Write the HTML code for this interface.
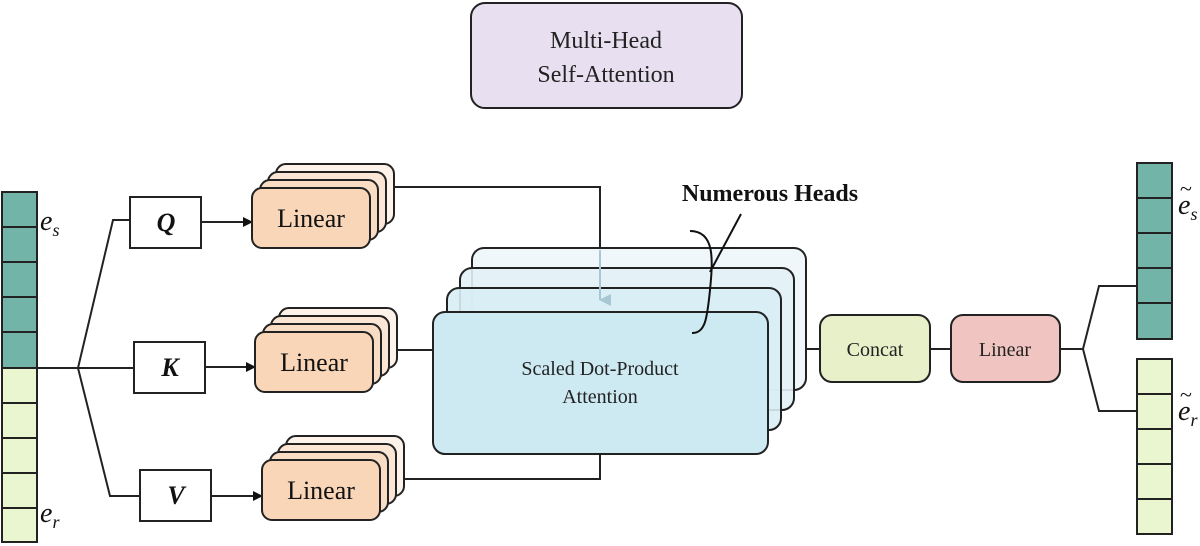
<!DOCTYPE html>
<html><head><meta charset="utf-8"><style>body{margin:0;background:#fff}svg{display:block}</style></head><body>
<svg width="1200" height="546" viewBox="0 0 1200 546" xmlns="http://www.w3.org/2000/svg" font-family="Liberation Serif, serif">
<defs><marker id="a" markerWidth="10" markerHeight="10" refX="9" refY="5" orient="auto" markerUnits="userSpaceOnUse"><path d="M0,0 L10,5 L0,10 z" fill="#111"/></marker>
<marker id="b" markerWidth="12" markerHeight="12" refX="6" refY="11" orient="auto" markerUnits="userSpaceOnUse"><path d="M0,0 L12,0 L6,12 z" fill="#a9c7d3"/></marker></defs>
<rect x="471" y="3" width="271" height="105" rx="14" fill="#e8e0f1" stroke="#222" stroke-width="2"/>
<text x="606" y="48" font-size="24" text-anchor="middle" fill="#222">Multi-Head</text>
<text x="606" y="82" font-size="24" text-anchor="middle" fill="#222">Self-Attention</text>
<g stroke="#222" stroke-width="2">
<rect x="2" y="192" width="35" height="176" fill="#72b4a7"/>
<rect x="2" y="368" width="35" height="174" fill="#eaf6d0"/>
<path d="M2,227h35M2,262h35M2,297h35M2,332h35M2,403h35M2,438h35M2,473h35M2,508h35" fill="none"/>
<rect x="1137" y="163" width="35" height="176" fill="#72b4a7"/>
<rect x="1137" y="359" width="35" height="175" fill="#eaf6d0"/>
<path d="M1137,198h35M1137,233h35M1137,268h35M1137,303h35M1137,394h35M1137,429h35M1137,464h35M1137,499h35" fill="none"/>
<path d="M37,368H78M78,368L113,220H130M78,368H134M78,368L110,496H140" fill="none"/>
<path d="M1060,349H1083L1099,286H1137M1083,349L1099,411H1137" fill="none"/>
<rect x="130" y="197" width="71" height="51" fill="#fff"/>
<rect x="134" y="342" width="71" height="51" fill="#fff"/>
<rect x="140" y="470" width="71" height="51" fill="#fff"/>
<path d="M201,222H252" marker-end="url(#a)"/>
<path d="M205,367H255" marker-end="url(#a)"/>
<path d="M211,496H262" marker-end="url(#a)"/>
</g>
<g font-size="26" font-style="italic" font-weight="bold" text-anchor="middle" fill="#111">
<text x="166" y="231">Q</text><text x="170" y="376">K</text><text x="176" y="504">V</text></g>
<g font-size="28" font-style="italic" fill="#111"><text x="40" y="230">e<tspan font-size="18" dy="6">s</tspan></text>
<text x="40" y="522">e<tspan font-size="18" dy="6">r</tspan></text>
<text x="1178" y="214">e<tspan font-size="18" dy="6">s</tspan></text><text x="1180" y="196" font-size="22" font-style="normal">~</text>
<text x="1178" y="420">e<tspan font-size="18" dy="6">r</tspan></text><text x="1180" y="402" font-size="22" font-style="normal">~</text></g>
<!-- connectors behind -->
<g stroke="#222" stroke-width="2" fill="none">
<path d="M395,187H600V300" stroke="#222"/>
<path d="M397,350H433"/>
<path d="M405,479H600V454"/>
<path d="M806,349H820M930,349H951"/>
</g>
<g stroke="#222" stroke-width="2">
<g id="lq"><rect x="276" y="164" width="118" height="60" rx="10" fill="#fdf3ea"/><rect x="268" y="172" width="118" height="60" rx="10" fill="#fbe6d5"/><rect x="260" y="180" width="118" height="60" rx="10" fill="#f9dcc4"/><rect x="252" y="188" width="118" height="60" rx="10" fill="#f9d6b8"/></g>
<rect x="279" y="308" width="118" height="60" rx="10" fill="#fdf3ea"/><rect x="271" y="316" width="118" height="60" rx="10" fill="#fbe6d5"/><rect x="263" y="324" width="118" height="60" rx="10" fill="#f9dcc4"/><rect x="255" y="332" width="118" height="60" rx="10" fill="#f9d6b8"/>
<rect x="286" y="436" width="118" height="60" rx="10" fill="#fdf3ea"/><rect x="278" y="444" width="118" height="60" rx="10" fill="#fbe6d5"/><rect x="270" y="452" width="118" height="60" rx="10" fill="#f9dcc4"/><rect x="262" y="460" width="118" height="60" rx="10" fill="#f9d6b8"/>
<rect x="472" y="248" width="334" height="142" rx="12" fill="#eff7fa"/>
<rect x="460" y="268" width="334" height="142" rx="12" fill="#e2f1f6" fill-opacity="0.9"/>
<rect x="447" y="288" width="334" height="142" rx="12" fill="#d7edf4" fill-opacity="0.9"/>
</g>
<path d="M600,250V300" stroke="#a9c7d3" stroke-width="2" marker-end="url(#b)"/>
<rect x="433" y="312" width="335" height="142" rx="12" fill="#cde9f2" stroke="#222" stroke-width="2"/>
<g font-size="26" text-anchor="middle" fill="#111"><text x="311" y="227">Linear</text><text x="314" y="371">Linear</text><text x="321" y="499">Linear</text></g>
<text x="600" y="375" font-size="20" text-anchor="middle" fill="#222">Scaled Dot-Product</text>
<text x="600" y="403" font-size="20" text-anchor="middle" fill="#222">Attention</text>
<path d="M690,231C715,231 713,260 710,290C707,320 705,333 692,333" fill="none" stroke="#111" stroke-width="2"/>
<path d="M741,214L710,272" stroke="#111" stroke-width="2"/>
<text x="770" y="201" font-size="24" font-weight="bold" text-anchor="middle" fill="#111">Numerous Heads</text>
<rect x="820" y="315" width="110" height="67" rx="12" fill="#e8f0c9" stroke="#222" stroke-width="2"/>
<text x="875" y="356" font-size="20" text-anchor="middle" fill="#222">Concat</text>
<rect x="951" y="315" width="109" height="67" rx="12" fill="#f0c4c1" stroke="#222" stroke-width="2"/>
<text x="1005" y="356" font-size="20" text-anchor="middle" fill="#222">Linear</text>
</svg></body></html>
